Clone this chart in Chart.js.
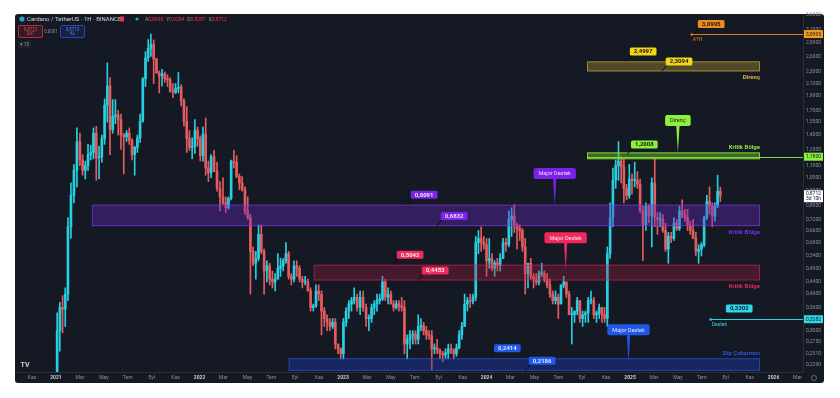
<!DOCTYPE html>
<html>
<head>
<meta charset="utf-8">
<script src="https://cdn.jsdelivr.net/npm/chart.js@4.4.1/dist/chart.umd.min.js"></script>
<style>
  html, body { margin: 0; padding: 0; background: #fff; }
  canvas { display: block; }
</style>
</head>
<body>
<canvas id="chart" width="840" height="398"></canvas>
<script>
// weekly candles, ADA/USDT, [open, high, low, close]
const weekStart = '2021-01-04';
const ada2021 = [
  [0.205,0.345,0.200,0.300],[0.300,0.375,0.255,0.360],[0.360,0.395,0.295,0.355],[0.355,0.420,0.310,0.400],
  [0.400,0.730,0.380,0.680],[0.680,0.960,0.620,0.870],[0.870,1.110,0.820,1.060],[1.060,1.480,0.930,1.330],
  [1.330,1.420,1.100,1.150],[1.150,1.200,1.020,1.060],[1.060,1.140,0.990,1.100],[1.100,1.300,1.060,1.200],
  [1.200,1.290,1.150,1.220],[1.220,1.480,1.160,1.420],[1.420,1.500,0.980,1.170],[1.170,1.280,0.990,1.180],
  [1.180,1.400,1.130,1.360],[1.360,1.860,1.300,1.770],[1.770,2.470,1.550,2.060],[2.060,2.200,1.200,1.460],
  [1.460,1.850,1.420,1.620],[1.620,1.850,1.530,1.640],[1.640,1.700,1.400,1.580],[1.580,1.650,1.250,1.400],
  [1.400,1.420,1.030,1.380],[1.380,1.450,1.330,1.420],[1.420,1.480,1.300,1.340],[1.340,1.360,1.150,1.200],
  [1.200,1.280,1.020,1.270],[1.270,1.400,1.220,1.370],[1.370,1.650,1.320,1.560],[1.560,2.200,1.550,2.180],
  [2.180,2.700,2.050,2.570],[2.570,2.970,2.500,2.770],[2.770,3.100,2.600,2.860],[2.860,2.960,2.100,2.550],
  [2.550,2.560,2.280,2.280],[2.280,2.320,1.950,2.230],[2.230,2.350,2.060,2.270],[2.270,2.300,2.120,2.180],
  [2.180,2.250,2.050,2.160],[2.160,2.200,1.960,1.980],[1.980,2.100,1.880,1.960],[1.960,2.100,1.940,2.020],
  [2.020,2.290,1.950,2.040],[2.040,2.080,1.760,1.830],[1.830,1.860,1.500,1.560],[1.560,1.750,1.220,1.360],
  [1.360,1.450,1.240,1.270],[1.270,1.370,1.160,1.280],[1.280,1.580,1.210,1.450],[1.450,1.490,1.280,1.360]
];
const ada2022 = [
  [1.360,1.390,1.140,1.190],[1.190,1.490,1.140,1.410],[1.410,1.600,1.020,1.080],[1.080,1.140,0.970,1.040],
  [1.040,1.200,1.000,1.180],[1.180,1.240,1.050,1.050],[1.050,1.130,0.900,0.920],[0.920,0.970,0.770,0.860],
  [0.860,1.000,0.810,0.820],[0.820,0.860,0.760,0.790],[0.790,0.860,0.780,0.850],[0.850,1.150,0.840,1.140],
  [1.140,1.240,1.080,1.130],[1.130,1.190,1.000,1.010],[1.010,1.030,0.910,0.960],[0.960,1.010,0.900,0.910],
  [0.910,0.930,0.750,0.770],[0.770,0.860,0.720,0.730],[0.730,0.750,0.400,0.560],[0.560,0.580,0.500,0.510],
  [0.510,0.560,0.450,0.530],[0.530,0.690,0.520,0.640],[0.640,0.690,0.550,0.560],[0.560,0.570,0.400,0.480],
  [0.480,0.520,0.440,0.500],[0.500,0.510,0.430,0.450],[0.450,0.480,0.420,0.440],[0.440,0.470,0.410,0.450],
  [0.450,0.550,0.450,0.490],[0.490,0.530,0.460,0.500],[0.500,0.530,0.480,0.520],[0.520,0.600,0.510,0.550],
  [0.550,0.560,0.450,0.460],[0.460,0.470,0.430,0.450],[0.450,0.520,0.440,0.500],[0.500,0.520,0.460,0.490],
  [0.490,0.500,0.440,0.450],[0.450,0.460,0.420,0.440],[0.440,0.460,0.430,0.440],[0.440,0.450,0.410,0.410],
  [0.410,0.420,0.350,0.360],[0.360,0.370,0.350,0.365],[0.365,0.430,0.360,0.410],[0.410,0.430,0.380,0.400],
  [0.400,0.410,0.290,0.350],[0.350,0.360,0.310,0.330],[0.330,0.340,0.300,0.320],[0.320,0.330,0.300,0.310],
  [0.310,0.330,0.305,0.320],[0.320,0.330,0.260,0.270],[0.270,0.270,0.250,0.260],[0.260,0.262,0.240,0.250]
];
const ada2023 = [
  [0.250,0.330,0.240,0.320],[0.320,0.360,0.310,0.350],[0.350,0.380,0.330,0.370],[0.370,0.390,0.350,0.380],
  [0.380,0.420,0.370,0.390],[0.390,0.400,0.350,0.360],[0.360,0.410,0.340,0.390],[0.390,0.410,0.350,0.360],
  [0.360,0.370,0.310,0.330],[0.330,0.340,0.300,0.330],[0.330,0.370,0.320,0.360],[0.360,0.380,0.340,0.370],
  [0.370,0.400,0.350,0.380],[0.380,0.400,0.370,0.385],[0.385,0.460,0.380,0.440],[0.440,0.450,0.380,0.390],
  [0.390,0.420,0.370,0.400],[0.400,0.410,0.370,0.370],[0.370,0.380,0.350,0.360],[0.360,0.380,0.355,0.370],
  [0.370,0.380,0.350,0.365],[0.365,0.390,0.350,0.360],[0.360,0.380,0.250,0.270],[0.270,0.290,0.240,0.280],
  [0.280,0.300,0.260,0.290],[0.290,0.300,0.270,0.292],[0.292,0.300,0.270,0.280],[0.280,0.340,0.270,0.310],
  [0.310,0.330,0.300,0.312],[0.312,0.320,0.290,0.300],[0.300,0.310,0.280,0.290],[0.290,0.300,0.280,0.288],
  [0.288,0.300,0.220,0.260],[0.260,0.270,0.250,0.262],[0.262,0.280,0.250,0.258],[0.258,0.260,0.240,0.250],
  [0.250,0.255,0.235,0.248],[0.248,0.260,0.240,0.252],[0.252,0.270,0.240,0.260],[0.260,0.270,0.250,0.258],
  [0.258,0.260,0.240,0.250],[0.250,0.270,0.245,0.262],[0.262,0.300,0.260,0.290],[0.290,0.320,0.280,0.310],
  [0.310,0.400,0.310,0.370],[0.370,0.390,0.350,0.380],[0.380,0.400,0.360,0.378],[0.378,0.400,0.370,0.390],
  [0.390,0.630,0.380,0.600],[0.600,0.660,0.550,0.620],[0.620,0.680,0.560,0.600],[0.600,0.630,0.570,0.590]
];
const ada2024 = [
  [0.590,0.620,0.460,0.520],[0.520,0.620,0.490,0.530],[0.530,0.550,0.480,0.490],[0.490,0.520,0.460,0.510],
  [0.510,0.530,0.480,0.500],[0.500,0.550,0.480,0.530],[0.530,0.620,0.530,0.600],[0.600,0.620,0.560,0.590],
  [0.590,0.770,0.580,0.720],[0.720,0.790,0.630,0.740],[0.740,0.810,0.650,0.690],[0.690,0.700,0.570,0.670],
  [0.670,0.690,0.610,0.660],[0.660,0.670,0.560,0.580],[0.580,0.620,0.400,0.470],[0.470,0.510,0.420,0.510],
  [0.510,0.530,0.450,0.460],[0.460,0.470,0.420,0.450],[0.450,0.470,0.430,0.440],[0.440,0.480,0.430,0.470],
  [0.470,0.510,0.460,0.470],[0.470,0.480,0.440,0.450],[0.450,0.470,0.420,0.430],[0.430,0.450,0.390,0.400],
  [0.400,0.410,0.370,0.380],[0.380,0.410,0.370,0.390],[0.390,0.400,0.330,0.370],[0.370,0.430,0.370,0.430],
  [0.430,0.460,0.420,0.440],[0.440,0.440,0.390,0.400],[0.400,0.410,0.340,0.340],[0.340,0.360,0.270,0.340],
  [0.340,0.350,0.320,0.350],[0.350,0.390,0.340,0.380],[0.380,0.380,0.320,0.330],[0.330,0.350,0.310,0.340],
  [0.340,0.350,0.320,0.345],[0.345,0.390,0.320,0.380],[0.380,0.410,0.370,0.380],[0.380,0.390,0.330,0.340],
  [0.340,0.350,0.320,0.345],[0.345,0.370,0.330,0.360],[0.360,0.360,0.320,0.340],[0.340,0.360,0.320,0.330],
  [0.330,0.580,0.310,0.550],[0.550,0.820,0.530,0.730],[0.730,1.080,0.680,0.980],[0.980,1.150,0.920,1.100],
  [1.100,1.330,0.980,1.140],[1.140,1.180,0.960,1.090],[1.090,1.160,0.820,0.920],[0.920,0.950,0.840,0.870],
  [0.870,1.110,0.850,0.990]
];
const ada2025 = [
  [0.990,1.030,0.880,0.980],[0.980,1.130,0.930,0.980],[0.980,1.050,0.920,0.950],[0.950,0.990,0.760,0.770],
  [0.770,0.800,0.520,0.690],[0.690,0.820,0.660,0.800],[0.800,0.810,0.700,0.740],[0.740,1.000,0.580,0.960],
  [0.960,1.170,0.680,0.730],[0.730,0.760,0.640,0.720],[0.720,0.760,0.680,0.720],[0.720,0.750,0.650,0.660],
  [0.660,0.700,0.560,0.570],[0.570,0.650,0.510,0.630],[0.630,0.650,0.600,0.620],[0.620,0.730,0.610,0.700],
  [0.700,0.720,0.660,0.670],[0.670,0.800,0.660,0.770],[0.770,0.840,0.730,0.750],[0.750,0.780,0.710,0.730],
  [0.730,0.780,0.660,0.690],[0.690,0.710,0.640,0.660],[0.660,0.720,0.620,0.620],[0.620,0.650,0.540,0.560],
  [0.560,0.590,0.510,0.570],[0.570,0.600,0.540,0.590],[0.590,0.740,0.580,0.730],[0.730,0.870,0.720,0.830],
  [0.830,0.930,0.750,0.800],[0.800,0.820,0.680,0.740],[0.740,0.820,0.710,0.800],[0.800,1.020,0.790,0.899],
  [0.899,0.9284,0.8287,0.8712]
];

// axes
const yTicks = [3.6, 3.2, 2.9, 2.6, 2.3, 2.1, 1.9, 1.7, 1.55, 1.4, 1.25, 1.1, 1.0, 0.9, 0.8, 0.72, 0.66, 0.6,
  0.54, 0.49, 0.44, 0.4, 0.36, 0.3, 0.275, 0.251, 0.229];
const xTickMonths = [-2,0,2,4,6,8,10,12,14,16,18,20,22,24,26,28,30,32,34,36,38,40,42,44,46,48,50,52,54,56,58,60,62];
const xTickLabels = ['Kas','2021','Mar','May','Tem','Eyl','Kas','2022','Mar','May','Tem','Eyl','Kas','2023','Mar',
  'May','Tem','Eyl','Kas','2024','Mar','May','Tem','Eyl','Kas','2025','Mar','May','Tem','Eyl','Kas','2026','Mar'];

// drawings
const zoneNames = ['Direnç', 'Kritik Bölge', 'Kritik Bölge', 'Kritik Bölge', 'Dip Çalışması'];
const zoneStart = ['2024-09-13', '2024-09-13', '2021-04-01', '2022-10-18', '2022-08-15'];
const zoneEnd = ['2025-11-27', '2025-11-27', '2025-11-27', '2025-11-27', '2025-11-27'];
const zoneLow = [2.3094, 1.1566, 0.6832, 0.4453, 0.2186];
const zoneHigh = [2.4997, 1.2208, 0.8091, 0.5042, 0.2414];

const tagPrices = [2.4997, 2.3094, 1.2008, 0.8091, 0.6832, 0.5042, 0.4453, 0.2414, 0.2186, 3.0995, 0.3302];
const tagDates = ['2024-12-21', '2025-03-21', '2024-12-24', '2023-06-11', '2023-08-27', '2023-05-06', '2023-07-09',
  '2024-01-10', '2024-04-07', '2025-06-11', '2025-08-22'];

const lineNames = ['ATH', 'Destek', ''];
const linePrices = [3.0995, 0.3282, 1.18];
const lineStart = ['2025-06-06', '2025-07-24', '2024-09-13'];

const calloutText = ['Direnç', 'Major Destek', 'Major Destek', 'Major Destek'];
const calloutDates = ['2025-05-01', '2024-06-22', '2024-07-20', '2024-12-28'];
const calloutPrices = [1.215, 0.80, 0.483, 0.234];

const axisTagPrices = [3.0995, 1.18, 0.3282];
const lastPrice = 0.8712;
const ohlcLetters = ['A', 'Y', 'D', 'K'];
const ohlcValues = [0.8990, 0.9284, 0.8287, 0.8712];

// ---- styles ----
const UP = '#27cfe0', DOWN = '#e35c5f';
const FONT = 'Roboto, "Noto Sans", sans-serif';
const zoneStyle = [
  { fill: 'rgba(205,180,55,0.32)', line: 'rgba(215,190,60,0.55)', text: '#d6b73c', above: false },
  { fill: 'rgba(120,215,40,0.42)', line: 'rgba(140,235,60,0.8)', text: '#8fe13e', above: true },
  { fill: 'rgba(105,40,200,0.36)', line: 'rgba(135,60,230,0.6)', text: '#7a2cf0', above: false },
  { fill: 'rgba(185,30,70,0.30)', line: 'rgba(220,40,85,0.55)', text: '#e0265f', above: false },
  { fill: 'rgba(30,60,200,0.36)', line: 'rgba(45,90,235,0.6)', text: '#2456e6', above: true }
];
const tagStyle = [
  ['#f3d51c', '#1a1a1a'], ['#f3d51c', '#1a1a1a'], ['#8af23c', '#1a1a1a'], ['#7b25e6', '#e8dcff'],
  ['#7b25e6', '#e8dcff'], ['#ef2b5d', '#ffe0e8'], ['#ef2b5d', '#ffe0e8'], ['#1f59e8', '#dbe6ff'],
  ['#1f59e8', '#dbe6ff'], ['#f08a1c', '#1a1a1a'], ['#2fd8e8', '#0e1a20']
];
const lineStyle = ['#e8781c', '#2bd3e3', '#7fdc35'];
const calloutStyle = [['#8af23c', '#1a1a1a'], ['#7b20e8', '#e8dcff'], ['#f0285c', '#ffe4ea'], ['#1f57e6', '#dbe6ff']];
const axisTagStyle = [['#f39a1e', '#1a1a1a'], ['#8af23c', '#1a1a1a'], ['#2fd8e8', '#0e1a20']];

const fmt = v => v.toFixed(4).replace('.', ',');

function monthIndex(d) {
  const y = d.getUTCFullYear(), m = d.getUTCMonth(), day = d.getUTCDate();
  const dim = new Date(Date.UTC(y, m + 1, 0)).getUTCDate();
  return (y - 2021) * 12 + m + (day - 1) / dim;
}
const monthOf = s => monthIndex(new Date(s + 'T00:00:00Z'));
const weekX = i => monthIndex(new Date(Date.parse(weekStart + 'T00:00:00Z') + i * 7 * 864e5));

const candles = [].concat(ada2021, ada2022, ada2023, ada2024, ada2025);
const colors = candles.map(c => c[3] >= c[0] ? UP : DOWN);
const wickData = candles.map((c, i) => ({ x: weekX(i), y: [c[2], c[1]] }));
const bodyData = candles.map((c, i) => ({ x: weekX(i), y: [c[0], c[3]] }));

const background = {
  id: 'background',
  beforeDraw(chart) {
    const ctx = chart.ctx;
    ctx.save();
    ctx.fillStyle = '#ffffff';
    ctx.fillRect(0, 0, chart.width, chart.height);
    ctx.fillStyle = '#151924';
    ctx.beginPath();
    ctx.roundRect(15, 14, 809, 369, 3);
    ctx.fill();
    ctx.restore();
  }
};

function badge(ctx, x, y, text, fill, color, bold) {
  ctx.font = (bold ? 'bold ' : '') + '6px ' + FONT;
  const w = ctx.measureText(text).width + 8, h = 8;
  const bx = x + 4, by = y - 14;
  ctx.strokeStyle = '#0b0d12';
  ctx.lineWidth = 1;
  ctx.beginPath(); ctx.moveTo(x, y); ctx.lineTo(bx + 1, by + h); ctx.stroke();
  ctx.fillStyle = fill;
  ctx.beginPath(); ctx.roundRect(bx, by, w, h, 1.5); ctx.fill();
  ctx.fillStyle = color;
  ctx.textAlign = 'center'; ctx.textBaseline = 'middle';
  ctx.fillText(text, bx + w / 2, by + h / 2 + 0.5);
}

function callout(ctx, x, y, text, fill, color) {
  ctx.font = '5.5px ' + FONT;
  const w = ctx.measureText(text).width + 10, h = 11;
  const bx = x - w / 2, by = y - 27 - h;
  ctx.fillStyle = fill;
  ctx.beginPath();
  ctx.moveTo(x - 1.6, by + h); ctx.lineTo(x + 1.6, by + h); ctx.lineTo(x, y);
  ctx.closePath(); ctx.fill();
  ctx.beginPath(); ctx.roundRect(bx, by, w, h, 2); ctx.fill();
  ctx.fillStyle = color;
  ctx.textAlign = 'center'; ctx.textBaseline = 'middle';
  ctx.fillText(text, x, by + h / 2 + 0.5);
}

const drawings = {
  id: 'drawings',
  afterDatasetsDraw(chart) {
    const { ctx, chartArea: a, scales: { x, y } } = chart;
    ctx.save();
    ctx.beginPath(); ctx.rect(a.left, a.top, a.right - a.left, a.bottom - a.top); ctx.clip();

    zoneLow.forEach((lo, i) => {
      const s = zoneStyle[i];
      const x0 = x.getPixelForValue(monthOf(zoneStart[i])), x1 = x.getPixelForValue(monthOf(zoneEnd[i]));
      const y0 = y.getPixelForValue(zoneHigh[i]), y1 = y.getPixelForValue(lo);
      ctx.fillStyle = s.fill;
      ctx.fillRect(x0, y0, x1 - x0, y1 - y0);
      ctx.strokeStyle = s.line; ctx.lineWidth = 1;
      ctx.strokeRect(x0 + 0.5, y0 + 0.5, x1 - x0 - 1, y1 - y0 - 1);
      ctx.font = 'bold 6px ' + FONT;
      ctx.fillStyle = s.text; ctx.textAlign = 'right'; ctx.textBaseline = 'middle';
      ctx.fillText(zoneNames[i], x1, s.above ? y0 - 5 : y1 + 6);
    });

    linePrices.forEach((p, i) => {
      const x0 = x.getPixelForValue(monthOf(lineStart[i])), py = Math.round(y.getPixelForValue(p)) + 0.5;
      ctx.strokeStyle = lineStyle[i]; ctx.lineWidth = 1;
      ctx.beginPath(); ctx.moveTo(x0, py); ctx.lineTo(a.right, py); ctx.stroke();
      if (lineNames[i]) {
        ctx.fillStyle = lineStyle[i];
        ctx.beginPath(); ctx.arc(x0, py, 1.3, 0, Math.PI * 2); ctx.fill();
        ctx.font = '5px ' + FONT; ctx.textAlign = 'left'; ctx.textBaseline = 'middle';
        ctx.fillText(lineNames[i], x0 + 1, py + 5);
      }
    });
    ctx.restore();

    ctx.save();
    tagPrices.forEach((p, i) => {
      badge(ctx, x.getPixelForValue(monthOf(tagDates[i])), y.getPixelForValue(p), fmt(p), tagStyle[i][0], tagStyle[i][1], true);
    });
    calloutText.forEach((t, i) => {
      callout(ctx, x.getPixelForValue(monthOf(calloutDates[i])), y.getPixelForValue(calloutPrices[i]), t,
        calloutStyle[i][0], calloutStyle[i][1]);
    });
    ctx.restore();
  },
  afterDraw(chart) {
    const { ctx, chartArea: a, scales: { y } } = chart;
    ctx.save();
    ctx.textAlign = 'center'; ctx.textBaseline = 'middle';
    axisTagPrices.forEach((p, i) => {
      const py = y.getPixelForValue(p);
      ctx.fillStyle = axisTagStyle[i][0];
      ctx.fillRect(a.right + 1, py - 4, 19, 8);
      ctx.fillStyle = axisTagStyle[i][1];
      ctx.font = '5px ' + FONT;
      ctx.fillText(fmt(p), a.right + 10.5, py + 0.3);
    });
    // last price
    const ly = y.getPixelForValue(lastPrice);
    ctx.fillStyle = '#ffffff';
    ctx.fillRect(a.right + 1, ly - 5, 19, 12);
    ctx.fillStyle = '#131722';
    ctx.font = '5px ' + FONT;
    ctx.fillText(fmt(lastPrice), a.right + 10.5, ly - 1.5);
    ctx.fillText('3d 10h', a.right + 10.5, ly + 4);

    // header
    ctx.textAlign = 'left';
    ctx.fillStyle = '#2f9bd8';
    ctx.beginPath(); ctx.arc(22, 19, 2.6, 0, Math.PI * 2); ctx.fill();
    ctx.fillStyle = '#d1d4dc';
    ctx.font = '6px ' + FONT;
    ctx.fillText('Cardano / TetherUS · 1H · BINANCE', 27, 19.5);
    ctx.fillStyle = '#f23645';
    ctx.fillRect(120, 16.5, 4, 5);
    ctx.fillStyle = '#22ab94';
    ctx.beginPath(); ctx.arc(137, 19, 1.6, 0, Math.PI * 2); ctx.fill();
    let hx = 145;
    ctx.font = '5px ' + FONT;
    ohlcLetters.forEach((l, i) => {
      ctx.fillStyle = '#9598a1';
      ctx.fillText(l, hx, 19.5);
      hx += ctx.measureText(l).width;
      ctx.fillStyle = '#f23645';
      const t = fmt(ohlcValues[i]);
      ctx.fillText(t, hx, 19.5);
      hx += ctx.measureText(t).width + 3;
    });

    // sell / buy boxes
    ctx.lineWidth = 1;
    ctx.fillStyle = 'rgba(242,54,69,0.12)'; ctx.strokeStyle = '#c2283a';
    ctx.beginPath(); ctx.roundRect(18.5, 25.5, 24, 12, 1.5); ctx.fill(); ctx.stroke();
    ctx.fillStyle = 'rgba(41,98,255,0.12)'; ctx.strokeStyle = '#2447b8';
    ctx.beginPath(); ctx.roundRect(60.5, 25.5, 24, 12, 1.5); ctx.fill(); ctx.stroke();
    ctx.textAlign = 'center'; ctx.font = '4.5px ' + FONT;
    ctx.fillStyle = '#f04050';
    ctx.fillText(fmt(ohlcValues[3]), 30.5, 29.5); ctx.fillText('SAT', 30.5, 34);
    ctx.fillStyle = '#4a7cff';
    ctx.fillText(fmt(0.8713), 72.5, 29.5); ctx.fillText('AL', 72.5, 34);
    ctx.fillStyle = '#8a8e99';
    ctx.fillText(fmt(0.0001), 51, 31.5);
    ctx.fillStyle = '#1e222d';
    ctx.fillRect(18, 41, 13, 7);
    ctx.fillStyle = '#9598a1';
    ctx.fillText('▾ 15', 24.5, 44.5);

    // logo and settings
    ctx.fillStyle = '#d1d4dc';
    ctx.font = 'bold 7px ' + FONT;
    ctx.fillText('TV', 25, 365);
    ctx.strokeStyle = '#787b86'; ctx.lineWidth = 0.8;
    ctx.beginPath(); ctx.arc(814, 378, 2.5, 0, Math.PI * 2); ctx.stroke();
    ctx.restore();
  }
};

new Chart(document.getElementById('chart'), {
  type: 'bar',
  data: {
    datasets: [
      { label: 'wick', data: wickData, backgroundColor: colors, barThickness: 1, grouped: false, order: 2 },
      { label: 'body', data: bodyData, backgroundColor: colors, barThickness: 2, grouped: false, minBarLength: 1, order: 1 }
    ]
  },
  options: {
    responsive: false,
    animation: false,
    devicePixelRatio: 1,
    layout: { padding: { left: 16, top: 14, right: 16, bottom: 15 } },
    plugins: { legend: { display: false }, tooltip: { enabled: false } },
    scales: {
      x: {
        type: 'linear', min: -3.344, max: 62.46, offset: false,
        grid: { display: false, drawTicks: false },
        border: { color: '#2a2e39' },
        afterBuildTicks: axis => { axis.ticks = xTickMonths.map(v => ({ value: v })); },
        afterFit: s => { s.height = 11; },
        ticks: {
          autoSkip: false, maxRotation: 0, padding: 3,
          font: ctx => ({ size: 5, family: FONT, weight: /^\d{4}$/.test(xTickLabels[ctx.index]) ? 'bold' : 'normal' }),
          color: ctx => /^\d{4}$/.test(xTickLabels[ctx.index]) ? '#c9ccd4' : '#8c909c',
          callback: (v, i) => xTickLabels[i]
        }
      },
      y: {
        type: 'logarithmic', position: 'right', min: 0.2166, max: 3.63,
        grid: { display: false, drawTicks: false },
        border: { color: '#2a2e39' },
        afterBuildTicks: axis => { axis.ticks = yTicks.map(v => ({ value: v })); },
        afterFit: s => { s.width = 21; },
        ticks: { autoSkip: false, padding: 3, font: { size: 5, family: FONT }, color: '#8c909c', callback: v => fmt(v) }
      }
    }
  },
  plugins: [background, drawings]
});
</script>
</body>
</html>
